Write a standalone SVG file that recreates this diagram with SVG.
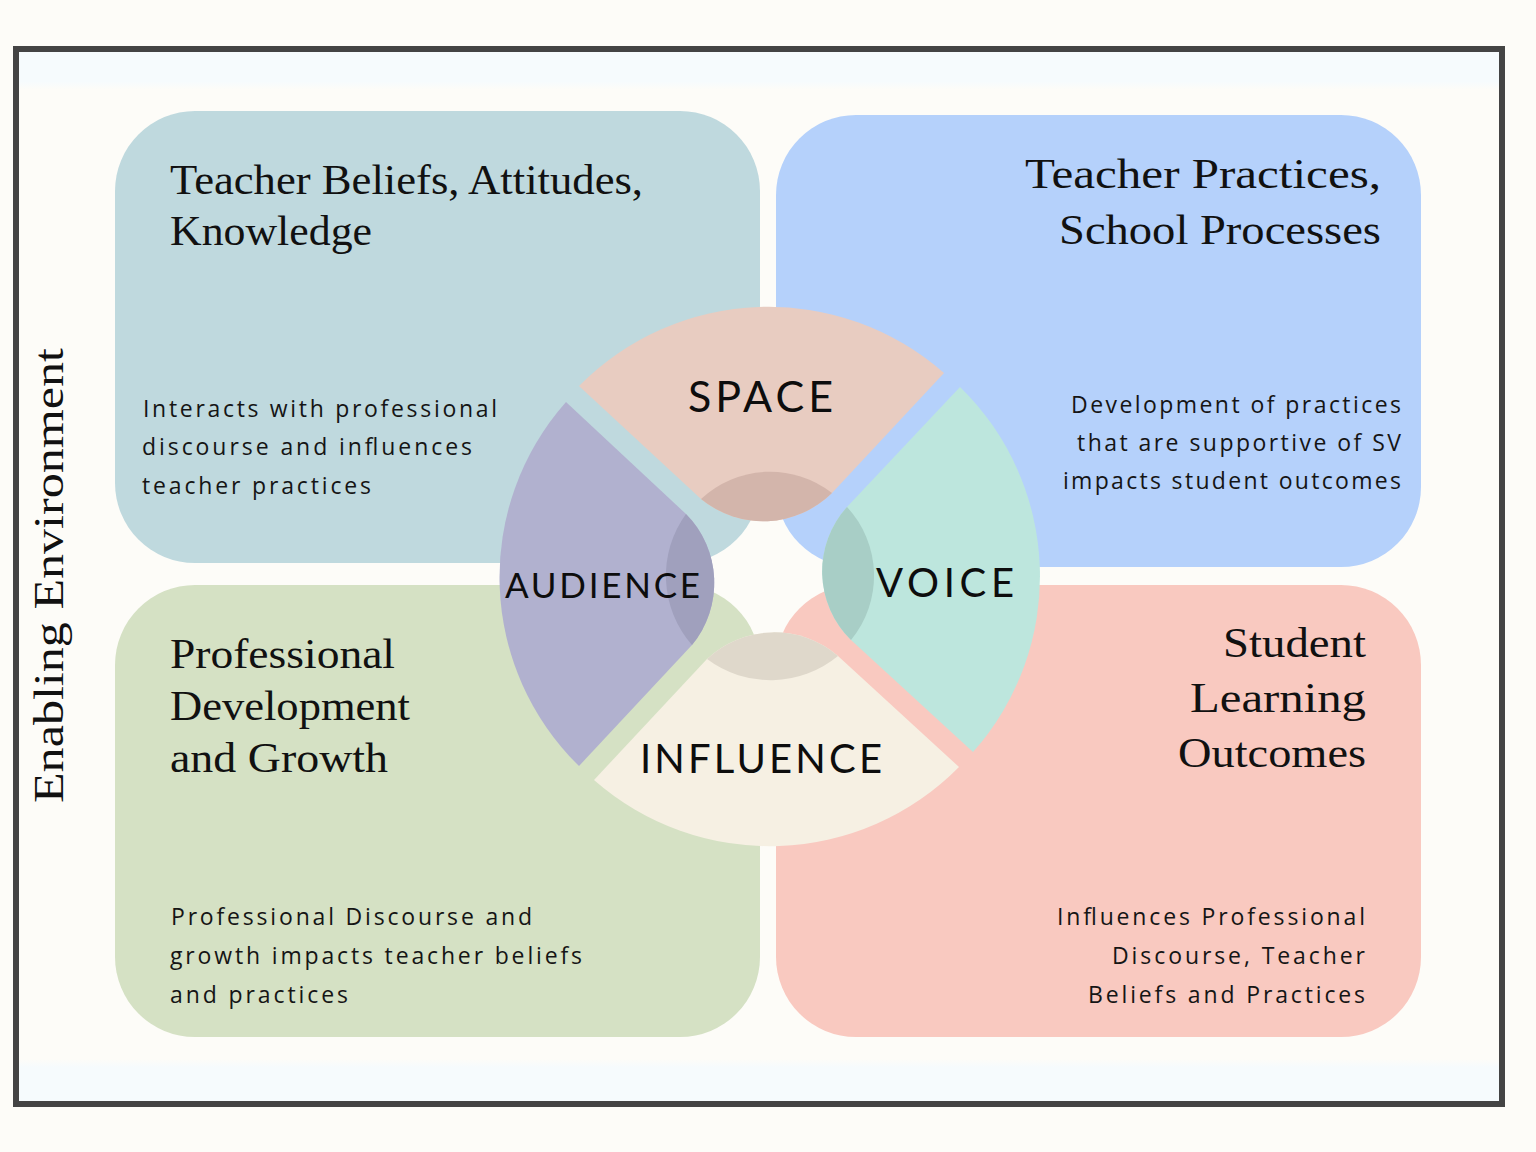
<svg xmlns="http://www.w3.org/2000/svg" width="1536" height="1152" viewBox="0 0 1536 1152">
  <defs>
    <linearGradient id="bandGrad" x1="0" y1="0" x2="0" y2="1">
      <stop offset="0" stop-color="#f6fbfd"/>
      <stop offset="0.028" stop-color="#f6fbfd"/>
      <stop offset="0.036" stop-color="#fdfcf8"/>
      <stop offset="0.96" stop-color="#fdfcf8"/>
      <stop offset="0.968" stop-color="#f6fbfd"/>
      <stop offset="1" stop-color="#f6fbfd"/>
    </linearGradient>
    <style>
      .title { font-family: "Liberation Serif", "DejaVu Serif", serif; font-size: 42px; fill: #111; }
      .body { font-family: "Open Sans", "Lato", sans-serif; font-size: 23px; fill: #151515; }
      .petal { font-family: "Lato", "Open Sans", sans-serif; font-weight: 400; fill: #0d0d0d; }
      .frame { fill: none; stroke: #444; stroke-width: 6; }
    </style>
  </defs>

  <rect x="0" y="0" width="1536" height="1152" fill="#fdfcf8"/>
  <rect x="19" y="52" width="1480" height="1049" fill="url(#bandGrad)"/>
  <rect class="frame" x="16" y="49" width="1486" height="1055"/>

  <g id="panel-teacher-beliefs">
    <rect x="115" y="111" width="645" height="452" rx="80" ry="80" fill="#bfd9de"/>
    <text class="title" x="170" y="194" textLength="473" lengthAdjust="spacingAndGlyphs">Teacher Beliefs, Attitudes,</text>
    <text class="title" x="170" y="245" textLength="202" lengthAdjust="spacingAndGlyphs">Knowledge</text>
    <text class="body" x="143" y="417" textLength="354" lengthAdjust="spacing">Interacts with professional</text>
    <text class="body" x="142" y="455" textLength="330" lengthAdjust="spacing">discourse and influences</text>
    <text class="body" x="142" y="494" textLength="229" lengthAdjust="spacing">teacher practices</text>
  </g>

  <g id="panel-teacher-practices">
    <rect x="776" y="115" width="645" height="452" rx="80" ry="80" fill="#b5d1fb"/>
    <text class="title" x="1025" y="188" textLength="356" lengthAdjust="spacingAndGlyphs">Teacher Practices,</text>
    <text class="title" x="1059" y="244" textLength="322" lengthAdjust="spacingAndGlyphs">School Processes</text>
    <text class="body" x="1071" y="413" textLength="330" lengthAdjust="spacing">Development of practices</text>
    <text class="body" x="1077" y="451" textLength="324" lengthAdjust="spacing">that are supportive of SV</text>
    <text class="body" x="1063" y="489" textLength="338" lengthAdjust="spacing">impacts student outcomes</text>
  </g>

  <g id="panel-professional-development">
    <rect x="115" y="585" width="645" height="452" rx="80" ry="80" fill="#d5e1c4"/>
    <text class="title" x="170" y="668" textLength="225" lengthAdjust="spacingAndGlyphs">Professional</text>
    <text class="title" x="170" y="720" textLength="240" lengthAdjust="spacingAndGlyphs">Development</text>
    <text class="title" x="170" y="772" textLength="218" lengthAdjust="spacingAndGlyphs">and Growth</text>
    <text class="body" x="171" y="925" textLength="361" lengthAdjust="spacing">Professional Discourse and</text>
    <text class="body" x="170" y="964" textLength="412" lengthAdjust="spacing">growth impacts teacher beliefs</text>
    <text class="body" x="170" y="1003" textLength="178" lengthAdjust="spacing">and practices</text>
  </g>

  <g id="panel-student-outcomes">
    <rect x="776" y="585" width="645" height="452" rx="80" ry="80" fill="#f9c9c0"/>
    <text class="title" x="1223" y="657" textLength="143" lengthAdjust="spacingAndGlyphs">Student</text>
    <text class="title" x="1190" y="712" textLength="176" lengthAdjust="spacingAndGlyphs">Learning</text>
    <text class="title" x="1178" y="767" textLength="188" lengthAdjust="spacingAndGlyphs">Outcomes</text>
    <text class="body" x="1057" y="925" textLength="308" lengthAdjust="spacing">Influences Professional</text>
    <text class="body" x="1112" y="964" textLength="253" lengthAdjust="spacing">Discourse, Teacher</text>
    <text class="body" x="1088" y="1003" textLength="277" lengthAdjust="spacing">Beliefs and Practices</text>
  </g>

  <g id="petal-space">
    <path d="M579,386 A266,266 0 0 1 944,373 L832,493 A98,98 0 0 1 701,499 Z" fill="#e8ccc1"/>
    <path d="M701,499 A101,101 0 0 1 832,493 A98,98 0 0 1 701,499 Z" fill="#d3b5ab"/>
    <text class="petal" x="688" y="412" font-size="43" textLength="145" lengthAdjust="spacing">SPACE</text>
  </g>

  <g id="petal-audience">
    <path d="M566,402 L686,514 A98,98 0 0 1 692,645 L579,766 A264,264 0 0 1 566,402 Z" fill="#b1b1cf"/>
    <path d="M686,514 A98,98 0 0 1 692,645 A105,105 0 0 1 686,514 Z" fill="#a0a0bd"/>
    <text class="petal" x="505" y="598" font-size="35" textLength="195" lengthAdjust="spacing">AUDIENCE</text>
  </g>

  <g id="petal-voice">
    <path d="M960,387 A264,264 0 0 1 973,752 L851,640 A96,96 0 0 1 847,507 Z" fill="#bde6dd"/>
    <path d="M847,507 A101,101 0 0 1 851,640 A96,96 0 0 1 847,507 Z" fill="#a8cec6"/>
    <text class="petal" x="876" y="597" font-size="40" textLength="138" lengthAdjust="spacing">VOICE</text>
  </g>

  <g id="petal-influence">
    <path d="M959,767 A266,266 0 0 1 594,780 L707,659 A98,98 0 0 1 838,656 Z" fill="#f6f0e3"/>
    <path d="M707,659 A98,98 0 0 1 838,656 A106,106 0 0 1 707,659 Z" fill="#dfd8cb"/>
    <text class="petal" x="640" y="773" font-size="40" textLength="242" lengthAdjust="spacing">INFLUENCE</text>
  </g>

  <g id="label-enabling-environment">
    <text class="title" transform="translate(63,803) rotate(-90)" x="0" y="0" font-size="45" textLength="455" lengthAdjust="spacingAndGlyphs">Enabling Environment</text>
  </g>

  <g id="connectors"/>
</svg>
